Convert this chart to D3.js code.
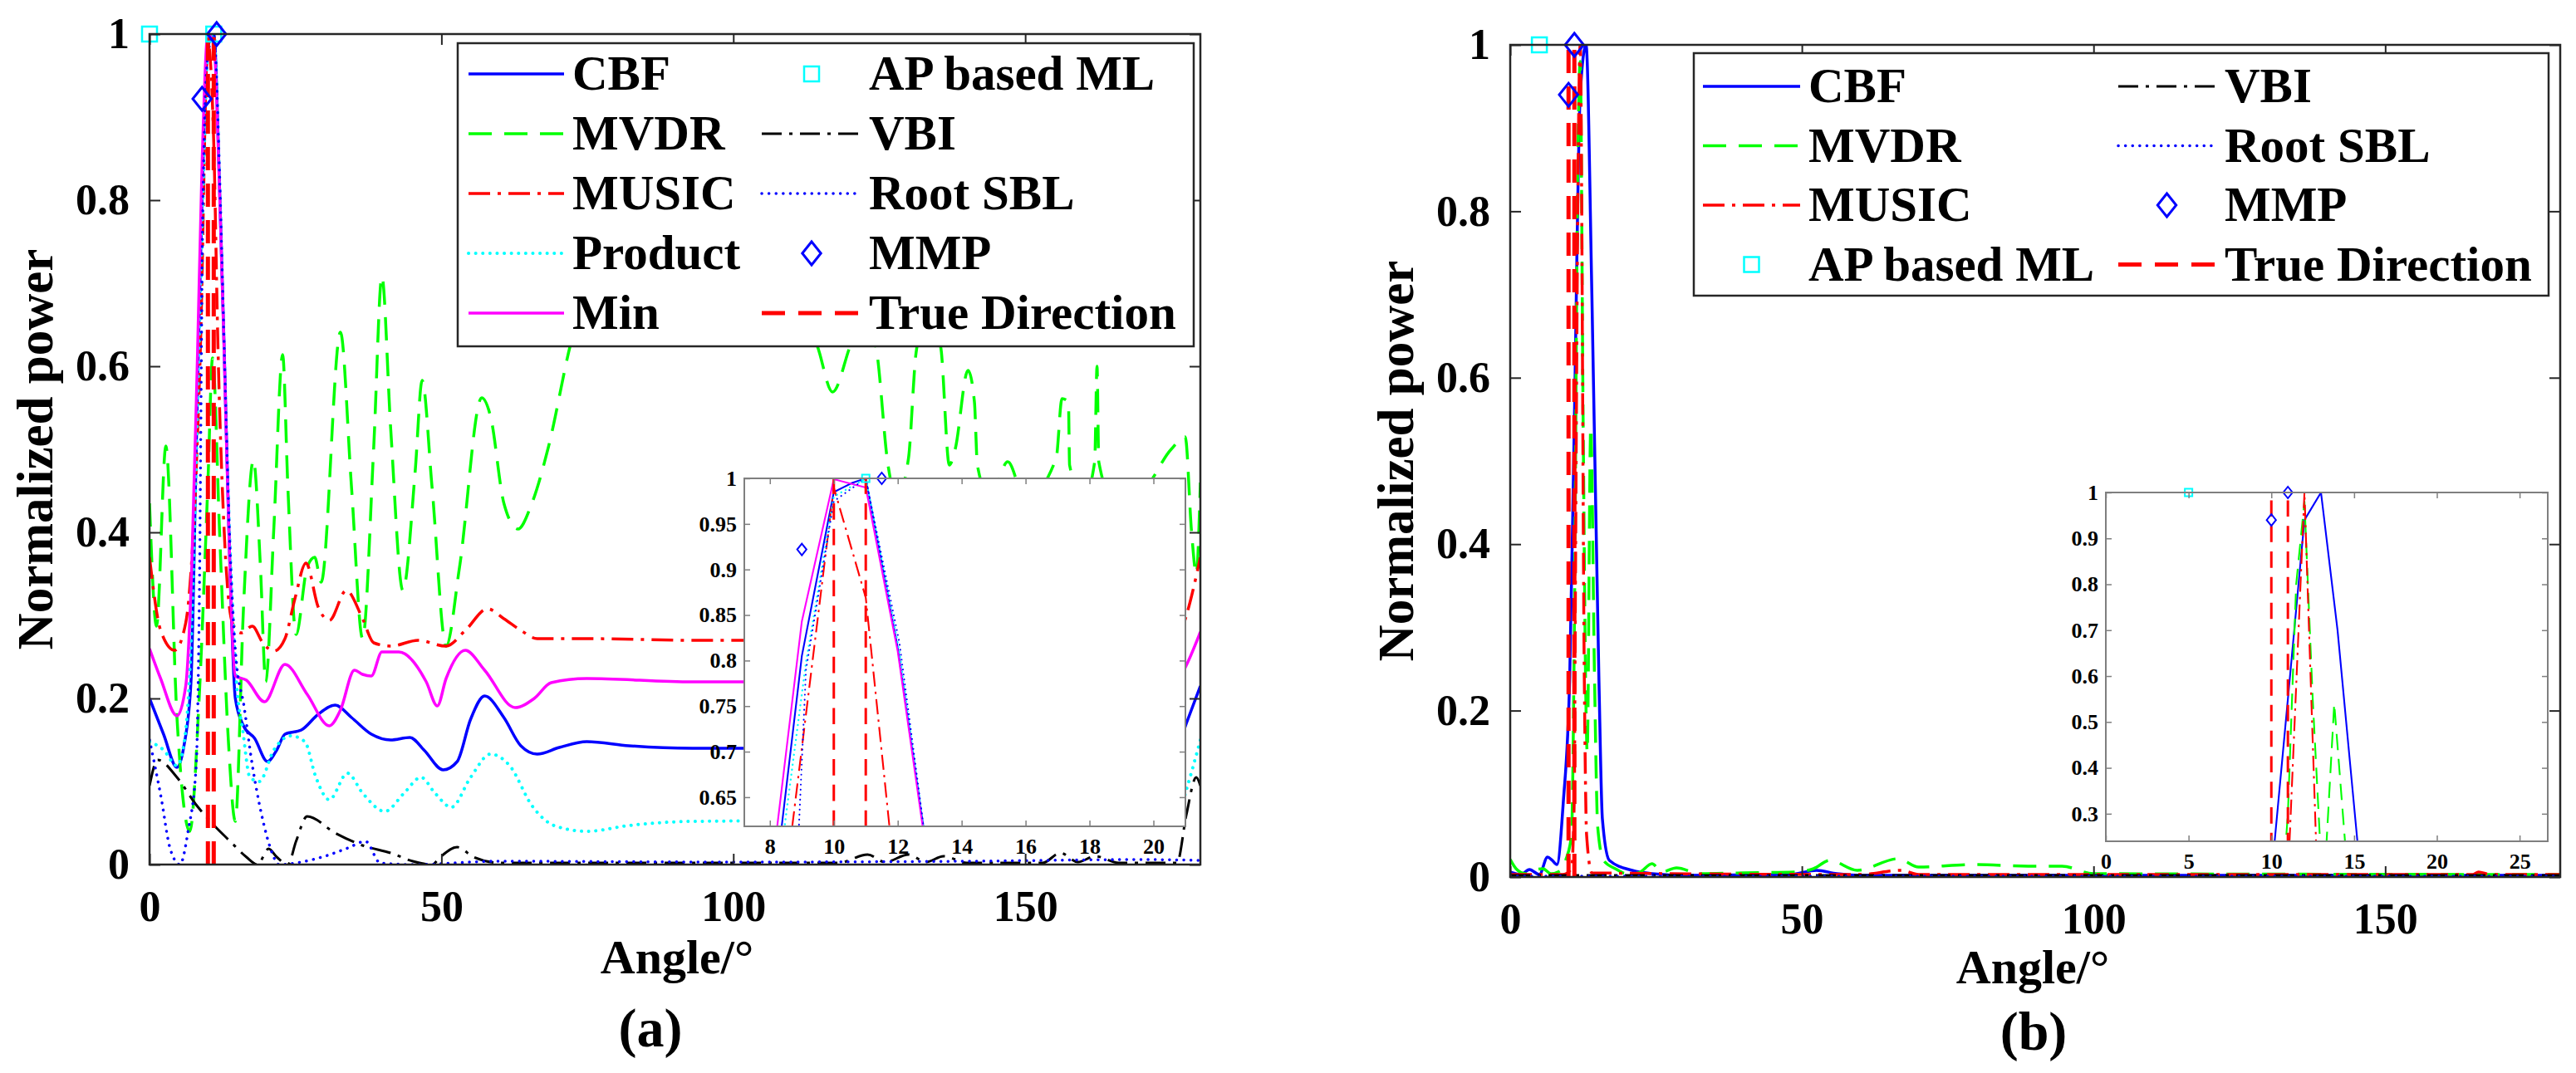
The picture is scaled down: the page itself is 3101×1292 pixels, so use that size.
<!DOCTYPE html>
<html>
<head>
<meta charset="utf-8">
<script src="https://cdn.jsdelivr.net/npm/d3@7"></script>
<style>
  body { margin: 0; background: #fff; }
  svg { display: block; font-family: "Liberation Serif", "Times New Roman", serif; font-weight: bold; }
</style>
</head>
<body>
<svg id="chart" width="3101" height="1292"></svg>
<script>
// ---------- panel (a): [angle in degrees, normalized power] ----------
const cbfA = [[0,0.2],[2.4,0.157],[4.7,0.117],[5.9,0.143],[7.1,0.22],[8,0.5],[8.37,0.618],[9,0.805],[10,0.985],[10.57,0.995],[11,1],[12,0.814],[12.8,0.618],[13.6,0.4],[14.7,0.2],[16.1,0.167],[18,0.152],[20.2,0.124],[21.8,0.138],[23.2,0.157],[26,0.162],[28.9,0.181],[31.8,0.192],[34.6,0.177],[38,0.157],[41.3,0.15],[44.6,0.153],[47,0.138],[50.3,0.114],[52.7,0.124],[55,0.175],[57.4,0.203],[60.7,0.177],[63.6,0.143],[66.4,0.133],[70.2,0.141],[74.9,0.148],[82.1,0.143],[93,0.14],[110,0.14],[176,0.14],[177.6,0.17],[180,0.215]];
const mvdrA = [[0,0.435],[1.2,0.287],[2.8,0.504],[4.7,0.177],[6.9,0.04],[8.5,0.2],[10,0.46],[10.8,0.61],[12,0.4],[13.5,0.15],[14.7,0.052],[16.1,0.31],[17.8,0.487],[19,0.358],[19.9,0.22],[21.3,0.406],[22.8,0.614],[23.7,0.454],[25.1,0.277],[27,0.358],[28.3,0.37],[29.4,0.34],[32.7,0.641],[34.6,0.454],[36.5,0.272],[38.4,0.502],[39.8,0.708],[41.3,0.526],[43.4,0.33],[45.5,0.473],[46.7,0.583],[48.4,0.454],[50.8,0.263],[53.1,0.358],[56.9,0.562],[58.4,0.54],[60.7,0.435],[63.1,0.404],[65.5,0.435],[68.3,0.502],[72.1,0.626],[76,0.72],[82,0.75],[90,0.7],[100,0.72],[108,0.7],[114.4,0.624],[117,0.569],[120,0.624],[122,0.66],[124.4,0.624],[126.5,0.481],[128,0.44],[130,0.489],[131.3,0.616],[133,0.66],[135.5,0.624],[137,0.481],[138,0.5],[140.2,0.595],[141.3,0.557],[141.8,0.481],[144,0.44],[147,0.485],[150,0.44],[155.3,0.489],[156.3,0.561],[157.4,0.557],[157.6,0.481],[160,0.44],[161.9,0.485],[162.3,0.6],[162.6,0.485],[165,0.44],[170,0.45],[175,0.5],[177.4,0.515],[178.5,0.4],[179.3,0.35],[180,0.46]];
const musicA = [[0,0.37],[1.9,0.282],[4.3,0.258],[6.2,0.291],[7.5,0.4],[8.7,0.618],[10,0.99],[11,0.869],[11.74,0.618],[12.8,0.4],[14.2,0.291],[15.7,0.279],[17.6,0.287],[19.4,0.267],[21.3,0.257],[23.2,0.272],[24.9,0.32],[26.8,0.363],[28.9,0.31],[30.8,0.294],[33.7,0.33],[36.5,0.296],[38.4,0.267],[41.3,0.263],[46,0.27],[50.8,0.263],[54.1,0.282],[57.9,0.308],[60.7,0.296],[63.6,0.282],[66.4,0.272],[74.9,0.272],[93,0.27],[176,0.27],[177.6,0.3],[180,0.37]];
const productA = [[0,0.148],[2.4,0.138],[4.7,0.119],[6,0.15],[7.3,0.3],[8.46,0.618],[9.13,0.798],[10,0.98],[11,1],[12.05,0.81],[12.8,0.618],[13.8,0.38],[14.9,0.22],[16,0.16],[17.2,0.105],[18.8,0.1],[21.3,0.138],[24.2,0.155],[26.6,0.148],[28.5,0.105],[30.8,0.078],[33.9,0.11],[36.5,0.086],[40.3,0.064],[43.6,0.086],[46.5,0.105],[48.9,0.086],[51.7,0.069],[55,0.105],[58.4,0.133],[61.7,0.119],[65.5,0.071],[69.3,0.047],[74.9,0.04],[82.1,0.047],[93,0.052],[176,0.055],[177.6,0.09],[180,0.15]];
const minA = [[0,0.26],[1.9,0.224],[4.7,0.179],[6.2,0.215],[7.2,0.35],[8.23,0.618],[9,0.843],[10,0.999],[11,0.99],[12,0.81],[12.78,0.618],[13.8,0.35],[14.7,0.227],[16.6,0.222],[19.7,0.196],[23.2,0.241],[27,0.205],[30.8,0.167],[32.7,0.186],[35.1,0.234],[36.5,0.229],[38,0.227],[39.8,0.256],[42.7,0.256],[47.4,0.22],[49.3,0.191],[50.8,0.224],[54.1,0.258],[57.4,0.234],[62.6,0.189],[65.9,0.2],[68.8,0.219],[74.9,0.224],[93,0.22],[176,0.22],[177.6,0.24],[180,0.28]];
const vbiA = [[0,0.095],[1.4,0.126],[4.7,0.105],[8.1,0.071],[10.4,0.052],[13.8,0.028],[16.6,0.009],[18.5,0],[20.4,0.019],[21.8,0.009],[23.7,0],[25.1,0.028],[27,0.058],[31.8,0.038],[36.5,0.023],[41.3,0.014],[45.1,0.004],[48.4,0],[49.8,0.009],[52.7,0.021],[55.5,0.009],[60,0.002],[100,0.002],[118,0.002],[123,0.012],[126,0.003],[130,0.012],[133,0.003],[136,0.01],[140,0.002],[153,0.002],[156,0.014],[159,0.003],[162,0.01],[166,0.002],[176,0.002],[177.6,0.06],[179.3,0.105],[180,0.095]];
const rootSblA = [[0,0.15],[2,0.08],[3.5,0.02],[5.2,0],[6.6,0.04],[8,0.12],[8.5,0.3],[9.13,0.79],[10,0.975],[11,1],[12.05,0.82],[12.8,0.62],[13.8,0.38],[14.8,0.25],[16.2,0.19],[17.6,0.12],[19.2,0.06],[20.7,0.02],[22.2,0],[26,0.003],[30,0.01],[34,0.02],[37,0.028],[39.5,0.002],[45,0],[60,0.004],[100,0.003],[140,0.004],[170,0.006],[180,0.005]];
const trueDirA = [10, 11];
const apMlA = [[0, 1], [11, 1]];
const mmpA = [[9, 0.922], [11.5, 1]];

// ---------- panel (b) ----------
const cbfB = [[0,0.006],[1.8,0.003],[3.3,0.009],[5,0.003],[6.4,0.024],[7.2,0.02],[8,0.015],[9.1,0.09],[10.2,0.24],[11,0.55],[12,0.94],[13,1],[14,0.7],[15.2,0.24],[15.8,0.07],[17,0.02],[20.9,0.008],[24.3,0.004],[30,0.002],[48,0.003],[52.5,0.008],[56,0.004],[60,0.002],[120,0.002],[180,0.002]];
const mvdrB = [[0,0.021],[1,0.01],[2.6,0.004],[4,0.008],[5.6,0.01],[7,0.004],[8.5,0.007],[9.5,0.02],[10.5,0.05],[11,0.3],[11.5,0.8],[12,0.98],[12.5,0.55],[13,0.2],[13.2,0.15],[13.8,0.54],[14.45,0.24],[15,0.06],[16,0.02],[18,0.01],[20,0.004],[22,0.005],[24.3,0.016],[26,0.006],[28.5,0.011],[32.6,0.004],[40,0.005],[49,0.006],[52,0.01],[54.8,0.02],[59.5,0.008],[66.5,0.022],[70,0.012],[79.4,0.015],[88.8,0.013],[94.6,0.013],[100,0.004],[180,0.003]];
const musicB = [[0,0.003],[9,0.003],[10.5,0.01],[11,0.1],[11.1,0.24],[12,1],[12.7,0.24],[13.1,0.05],[14,0.005],[60,0.003],[67,0.008],[70,0.003],[165,0.003],[166,0.006],[168,0.003],[180,0.003]];
const vbiB = [[0,0.002],[60,0.002],[120,0.002],[180,0.002]];
const rootSblB = [[0,0.001],[60,0.001],[120,0.001],[180,0.001]];
const trueDirB = [10, 11];
const apMlB = [[5, 1]];
const mmpB = [[10, 0.94], [11, 1]];

// ---------- ticks and legend text ----------
const mainXTicks = [0, 50, 100, 150];
const mainYTicks = [0, 0.2, 0.4, 0.6, 0.8, 1];
const insetXTicksA = [8, 10, 12, 14, 16, 18, 20];
const insetYTicksA = [0.65, 0.7, 0.75, 0.8, 0.85, 0.9, 0.95, 1];
const insetXTicksB = [0, 5, 10, 15, 20, 25];
const insetYTicksB = [0.3, 0.4, 0.5, 0.6, 0.7, 0.8, 0.9, 1];
const legendColsA = [["CBF", "MVDR", "MUSIC", "Product", "Min"], ["AP based ML", "VBI", "Root SBL", "MMP", "True Direction"]];
const legendColsB = [["CBF", "MVDR", "MUSIC", "AP based ML"], ["VBI", "Root SBL", "MMP", "True Direction"]];

const styles = {
  "CBF": { color: "#0000ff", width: 3.5 },
  "MVDR": { color: "#00ff00", width: 3.5, dash: [28, 15] },
  "MUSIC": { color: "#ff0000", width: 3.5, dash: [26, 9, 4, 9] },
  "Product": { color: "#00ffff", width: 4, dash: [0.1, 8.5], cap: "round" },
  "Min": { color: "#ff00ff", width: 3.5 },
  "VBI": { color: "#000000", width: 3, dash: [24, 9, 4, 9] },
  "Root SBL": { color: "#0000ff", width: 3.5, dash: [0.1, 8.5], cap: "round" },
  "True Direction": { color: "#ff0000", width: 5, dash: [28, 16] },
  "AP based ML": { color: "#00ffff", marker: "square" },
  "MMP": { color: "#0000ff", marker: "diamond" }
};

const panels = [
  {
    id: "a",
    plot: { left: 180, top: 41, right: 1445, bottom: 1041 },
    inset: { left: 896, top: 576, right: 1427, bottom: 995 },
    insetX: [7.2, 21], insetY: [0.618, 1],
    insetXTicks: insetXTicksA, insetYTicks: insetYTicksA,
    series: { "CBF": cbfA, "MVDR": mvdrA, "MUSIC": musicA, "Product": productA, "Min": minA, "VBI": vbiA, "Root SBL": rootSblA },
    trueDir: trueDirA, ap: apMlA, mmp: mmpA,
    legend: { x: 551, y: 52, w: 886, h: 365, row0: 89, rowGap: 72, lineX: [[564, 679], [917, 1037]], textX: [689, 1046] },
    legendCols: legendColsA,
    yLabelX: 63, xLabelX: 815, xLabelY: 1172, tagX: 783, tagY: 1260, tag: "(a)"
  },
  {
    id: "b",
    plot: { left: 1818, top: 54, right: 3082, bottom: 1056 },
    inset: { left: 2535, top: 593, right: 3067, bottom: 1013 },
    insetX: [0, 26.7], insetY: [0.24, 1],
    insetXTicks: insetXTicksB, insetYTicks: insetYTicksB,
    series: { "CBF": cbfB, "MVDR": mvdrB, "MUSIC": musicB, "VBI": vbiB, "Root SBL": rootSblB },
    trueDir: trueDirB, ap: apMlB, mmp: mmpB,
    legend: { x: 2039, y: 64, w: 1029, h: 292, row0: 104, rowGap: 71.5, lineX: [[2050, 2167], [2550, 2667]], textX: [2177, 2678] },
    legendCols: legendColsB,
    yLabelX: 1701, xLabelX: 2447, xLabelY: 1184, tagX: 2448, tagY: 1264, tag: "(b)"
  }
];

const svg = d3.select("#chart");
const fmt = d3.format("~g");

function styleLine(sel, st, kw, kd) {
  sel.attr("fill", "none")
    .attr("stroke", st.color)
    .attr("stroke-width", st.width * kw)
    .attr("stroke-dasharray", st.dash ? st.dash.map(v => v * kd).join(" ") : null)
    .attr("stroke-linecap", st.cap || "butt")
    .attr("stroke-linejoin", "round");
}

function markerPath(kind, s) {
  if (kind === "square") return `M${-s / 2},${-s / 2}h${s}v${s}h${-s}Z`;
  const w = s * 0.8;
  return `M0,${-s / 2}L${w / 2},0L0,${s / 2}L${-w / 2},0Z`;
}

function drawMarkers(g, data, kind, color, x, y, size, lw) {
  g.append("g").selectAll("path")
    .data(data)
    .join("path")
    .attr("transform", d => `translate(${x(d[0])},${y(d[1])})`)
    .attr("d", markerPath(kind, size))
    .attr("fill", "none")
    .attr("stroke", color)
    .attr("stroke-width", lw);
}

function frame(g, x, y, box, o) {
  const parts = [
    [d3.axisBottom(x).tickValues(o.xTicks).tickFormat(fmt).tickPadding(o.xPad), `translate(0,${box.bottom})`],
    [d3.axisTop(x).tickValues(o.xTicks).tickFormat(""), `translate(0,${box.top})`],
    [d3.axisLeft(y).tickValues(o.yTicks).tickFormat(fmt).tickPadding(o.yPad), `translate(${box.left},0)`],
    [d3.axisRight(y).tickValues(o.yTicks).tickFormat(""), `translate(${box.right},0)`]
  ];
  parts.forEach(([ax, tr]) => {
    const a = g.append("g")
      .attr("transform", tr)
      .call(ax.tickSizeInner(-o.tick).tickSizeOuter(0))
      .attr("font-size", o.font)
      .attr("font-family", null);
    a.select(".domain").remove();
    a.selectAll(".tick line").attr("stroke", o.color).attr("stroke-width", o.lw);
    a.selectAll(".tick text").attr("fill", "#000");
  });
  g.append("rect")
    .attr("x", box.left).attr("y", box.top)
    .attr("width", box.right - box.left).attr("height", box.bottom - box.top)
    .attr("fill", "none").attr("stroke", o.color).attr("stroke-width", o.boxW);
}

function plotSeries(g, p, x, y, curve, kw, kd) {
  const line = d3.line().curve(curve).x(d => x(d[0])).y(d => y(d[1]));
  Object.entries(p.series).forEach(([name, data]) => {
    g.append("path").datum(data).attr("d", line).call(styleLine, styles[name], kw, kd);
  });
  const vline = d3.line().x(d => x(d[0])).y(d => y(d[1]));
  p.trueDir.forEach(a => {
    g.append("path").datum([[a, 0], [a, 1]]).attr("d", vline).call(styleLine, styles["True Direction"], kw, kd);
  });
}

function drawPanel(p) {
  const g = svg.append("g");
  const b = p.plot;
  const x = d3.scaleLinear().domain([0, 180]).range([b.left, b.right]);
  const y = d3.scaleLinear().domain([0, 1]).range([b.bottom, b.top]);

  svg.append("clipPath").attr("id", "clip-" + p.id).append("rect")
    .attr("x", b.left).attr("y", b.top).attr("width", b.right - b.left).attr("height", b.bottom - b.top);

  const lines = g.append("g").attr("clip-path", `url(#clip-${p.id})`);
  plotSeries(lines, p, x, y, d3.curveMonotoneX, 1, 1);
  drawMarkers(g, p.ap, "square", styles["AP based ML"].color, x, y, 18, 2.5);
  drawMarkers(g, p.mmp, "diamond", styles["MMP"].color, x, y, 28, 3);

  frame(g, x, y, b, { xTicks: mainXTicks, yTicks: mainYTicks, tick: 13, xPad: 31, yPad: 24, font: 52, color: "#262626", lw: 2, boxW: 2.5 });

  // axis titles and panel tag
  g.append("text").attr("x", p.xLabelX).attr("y", p.xLabelY).attr("text-anchor", "middle")
    .attr("font-size", 58).text("Angle/°");
  g.append("text").attr("transform", `translate(${p.yLabelX},${(b.top + b.bottom) / 2}) rotate(-90)`)
    .attr("text-anchor", "middle").attr("font-size", 61).text("Normalized power");
  g.append("text").attr("x", p.tagX).attr("y", p.tagY).attr("text-anchor", "middle")
    .attr("font-size", 66).text(p.tag);

  // inset zoom axes
  const ib = p.inset;
  const ix = d3.scaleLinear().domain(p.insetX).range([ib.left, ib.right]);
  const iy = d3.scaleLinear().domain(p.insetY).range([ib.bottom, ib.top]);
  const ig = g.append("g");
  ig.append("rect").attr("x", ib.left).attr("y", ib.top)
    .attr("width", ib.right - ib.left).attr("height", ib.bottom - ib.top).attr("fill", "#fff");
  svg.append("clipPath").attr("id", "iclip-" + p.id).append("rect")
    .attr("x", ib.left).attr("y", ib.top).attr("width", ib.right - ib.left).attr("height", ib.bottom - ib.top);
  const ilines = ig.append("g").attr("clip-path", `url(#iclip-${p.id})`);
  plotSeries(ilines, p, ix, iy, d3.curveLinear, 0.6, 0.7);
  drawMarkers(ig, p.ap.filter(d => d[0] >= p.insetX[0]), "square", styles["AP based ML"].color, ix, iy, 9, 2);
  drawMarkers(ig, p.mmp, "diamond", styles["MMP"].color, ix, iy, 14, 2);
  frame(ig, ix, iy, ib, { xTicks: p.insetXTicks, yTicks: p.insetYTicks, tick: 7, xPad: 15, yPad: 9, font: 26, color: "#7f7f7f", lw: 1.5, boxW: 2 });

  // legend
  const L = p.legend;
  const lg = g.append("g");
  lg.append("rect").attr("x", L.x).attr("y", L.y).attr("width", L.w).attr("height", L.h)
    .attr("fill", "#fff").attr("stroke", "#262626").attr("stroke-width", 2.5);
  p.legendCols.forEach((col, ci) => {
    col.forEach((name, ri) => {
      const cy = L.row0 + ri * L.rowGap;
      const [x0, x1] = L.lineX[ci];
      const st = styles[name];
      if (st.marker) {
        lg.append("path").attr("transform", `translate(${(x0 + x1) / 2},${cy})`)
          .attr("d", markerPath(st.marker, st.marker === "square" ? 18 : 28))
          .attr("fill", "none").attr("stroke", st.color).attr("stroke-width", st.marker === "square" ? 2.5 : 3);
      } else {
        lg.append("line").attr("x1", x0).attr("x2", x1).attr("y1", cy).attr("y2", cy).call(styleLine, st, 1, 1);
      }
      lg.append("text").attr("x", L.textX[ci]).attr("y", cy).attr("dy", "0.33em")
        .attr("font-size", 59).text(name);
    });
  });
}

panels.forEach(drawPanel);
</script>
</body>
</html>
